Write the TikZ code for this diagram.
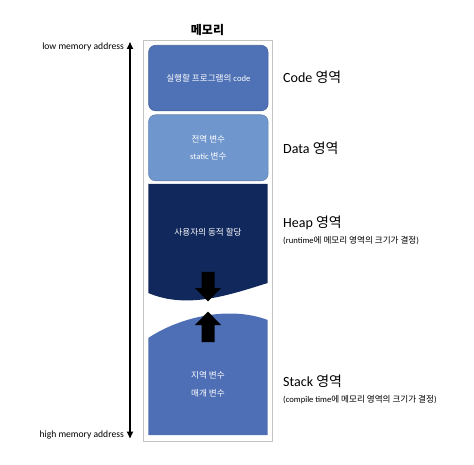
\documentclass[tikz,border=0pt]{standalone}
\usepackage{fontspec}
\setmainfont{Carlito}
\newfontfamily\kr{Noto Sans CJK KR}
\usetikzlibrary{arrows.meta}
\definecolor{codeblue}{RGB}{79,114,182}
\definecolor{datablue}{RGB}{112,151,205}
\definecolor{heapnavy}{RGB}{17,40,92}
\definecolor{stackblue}{RGB}{78,111,182}
\definecolor{framegray}{RGB}{195,195,195}
\tikzset{
  membox/.style={draw, rounded corners=7pt, line width=0.6pt, minimum width=119.5pt, anchor=north west, inner sep=0pt},
  intext/.style={text=white, font=\kr\fontsize{8.6}{10}\selectfont, align=center},
  biglabel/.style={anchor=west, font=\fontsize{14}{16}\selectfont, inner sep=0pt},
  smalllabel/.style={anchor=west, font=\fontsize{8.6}{10}\selectfont, inner sep=0pt},
  addrlabel/.style={anchor=east, font=\fontsize{9.6}{11}\selectfont, inner sep=0pt},
  blockarrow/.style={fill=black},
}
\begin{document}
\begin{tikzpicture}[x=1pt,y=-1pt]
\useasboundingbox (0,0) rectangle (474,465);
% outer frame
\draw[framegray, line width=0.8pt] (143.3,40.7) rectangle (272.5,441);
% title
\node[font=\kr\bfseries\fontsize{12}{14}\selectfont] (title) at (207.5,30) {메모리};
% code box
\node[membox, fill=codeblue, draw=codeblue!85!black, minimum height=65.5pt] (code) at (148.3,45) {};
\node[intext] (codetxt) at (code.center) {실행할 프로그램의 {\fontspec{Carlito}code}};
% data box
\node[membox, fill=datablue, draw=datablue!85!black, minimum height=66pt] (data) at (148.3,114.5) {};
\node[intext] (datatxt1) at ([yshift=8.5pt]data.center) {전역 변수};
\node[intext] (datatxt2) at ([yshift=-8.5pt]data.center) {{\fontspec{Carlito}static} 변수};
% heap
\fill[heapnavy] (148.3,184) -- (267.7,184) -- (267.7,283)
  .. controls (232,294) and (188,310) .. (148.3,293) -- cycle;
\node[intext] (heaptxt) at (208,232) {사용자의 동적 할당};
% stack
\fill[stackblue] (148.3,338) .. controls (178,318) and (228,305) .. (267.7,320)
  -- (267.7,435) -- (148.3,435) -- cycle;
\node[intext] (stacktxt1) at (208,375) {지역 변수};
\node[intext] (stacktxt2) at (208,393) {매개 변수};
% block arrows
\fill[blockarrow] (201.5,272) -- (214.5,272) -- (214.5,288) -- (221,288) -- (208,301.5)
  -- (195,288) -- (201.5,288) -- cycle;
\fill[blockarrow] (201.5,342) -- (214.5,342) -- (214.5,325) -- (221,325) -- (208,311.5)
  -- (195,325) -- (201.5,325) -- cycle;
% address arrow
\coordinate (atop) at (130,42);
\coordinate (abot) at (130,438.5);
\draw[line width=1.6pt, {Triangle[length=7pt,width=6pt]}-{Triangle[length=7pt,width=6pt]}] (atop) -- (abot);
\node[addrlabel] (low) at (124,47) {low memory address};
\node[addrlabel] (high) at (124,435) {high memory address};
% right labels
\node[biglabel] (codelbl) at (283,77) {Code {\kr 영역}};
\node[biglabel] (datalbl) at (283,148) {Data {\kr 영역}};
\node[biglabel] (heaplbl) at (283,223) {Heap {\kr 영역}};
\node[smalllabel] (heapsub) at (283,240.5) {(runtime{\kr 에 메모리 영역의 크기가 결정})};
\node[biglabel] (stacklbl) at (283,381) {Stack {\kr 영역}};
\node[smalllabel] (stacksub) at (283,399.5) {(compile time{\kr 에 메모리 영역의 크기가 결정})};
\end{tikzpicture}
\end{document}
